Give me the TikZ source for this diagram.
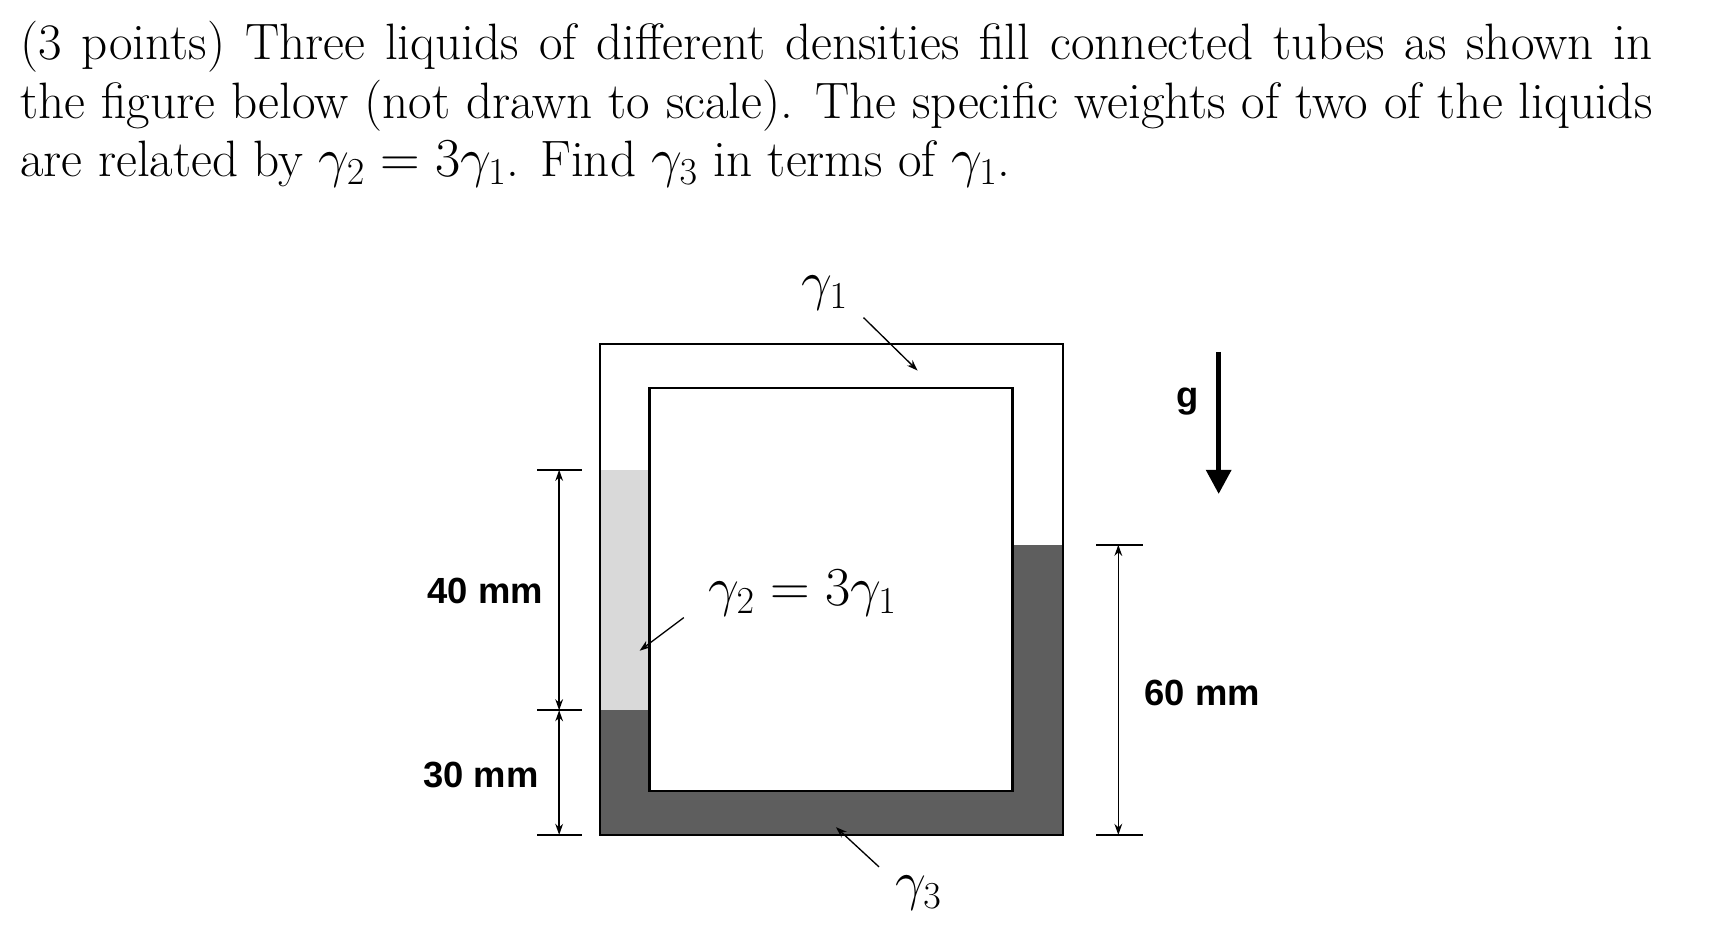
\documentclass[tikz,border=0pt]{standalone}
\usepackage{fontspec}
\newfontfamily\lab{Liberation Sans}
\usetikzlibrary{arrows.meta}
\begin{document}
\begin{tikzpicture}[x=0.5pt,y=-0.5pt,
  dim/.style={line width=0.7pt,{Stealth[length=5pt,width=3.5pt]}-{Stealth[length=5pt,width=3.5pt]}},
  tick/.style={line width=0.8pt},
  lbl/.style={font=\lab\bfseries\fontsize{16.5}{16.5}\selectfont},
  ptr/.style={line width=0.6pt,-{Stealth[length=5pt,width=3.5pt]}},
  gk/.style={font=\fontsize{25}{25}\selectfont}]
\useasboundingbox (0,0) rectangle (1565,843);
\node[anchor=north west,text width=740pt,align=justify,inner sep=0pt,font=\fontsize{23.2}{26.5}\selectfont] (txt) at (18,19)
{(3 points) Three liquids of different densities fill connected tubes as shown in\linebreak the figure below (not drawn to scale). The specific weights of two of the liquids\linebreak are related by $\gamma_2=3\gamma_1$. Find $\gamma_3$ in terms of $\gamma_1$.};
% fills
\fill[gray!30] (544,426) rectangle (589,644);
\fill[black!63] (544,644) rectangle (589,757);
\fill[black!63] (544,717) rectangle (964,757);
\fill[black!63] (918,494) rectangle (964,757);
\draw[line width=1pt] (544,312) rectangle (964,757);
\draw[line width=1pt,fill=white] (589,352) rectangle (918,717);
% left dims
\coordinate (a1) at (507,426); \coordinate (a2) at (507,644); \coordinate (a3) at (507,757);
\draw[tick] (487,426)--(528,426); \draw[tick] (487,644)--(528,644); \draw[tick] (487,757)--(528,757);
\draw[dim] (a1)--(a2); \draw[dim] (a2)--(a3);
\node[lbl] (l40) at (440,536) {40 mm};
\node[lbl] (l30) at (436,703) {30 mm};
% right dim
\coordinate (b1) at (1014,494); \coordinate (b2) at (1014,757);
\draw[tick] (994,494)--(1036,494); \draw[tick] (994,757)--(1036,757);
\draw[dim] (b1)--(b2);
\node[lbl] (l60) at (1090,628) {60 mm};
% gravity
\node[lbl] (g) at (1077,364) {g};
\coordinate (g1) at (1105,319); \coordinate (g2) at (1105,448);
\draw[line width=2.5pt,-{Triangle[length=11pt,width=11pt]}] (g1)--(g2);
% gamma labels
\node[gk] (y1) at (748,266) {$\gamma_1$};
\coordinate (p1) at (783,288); \coordinate (q1) at (832,336);
\draw[ptr] (p1)--(q1);
\node[gk] (y2) at (728,538) {$\gamma_2=3\gamma_1$};
\coordinate (p2) at (620,560); \coordinate (q2) at (580,590);
\draw[ptr] (p2)--(q2);
\node[gk] (y3) at (833,810) {$\gamma_3$};
\coordinate (p3) at (797,786); \coordinate (q3) at (758,750);
\draw[ptr] (p3)--(q3);
\end{tikzpicture}
\end{document}
